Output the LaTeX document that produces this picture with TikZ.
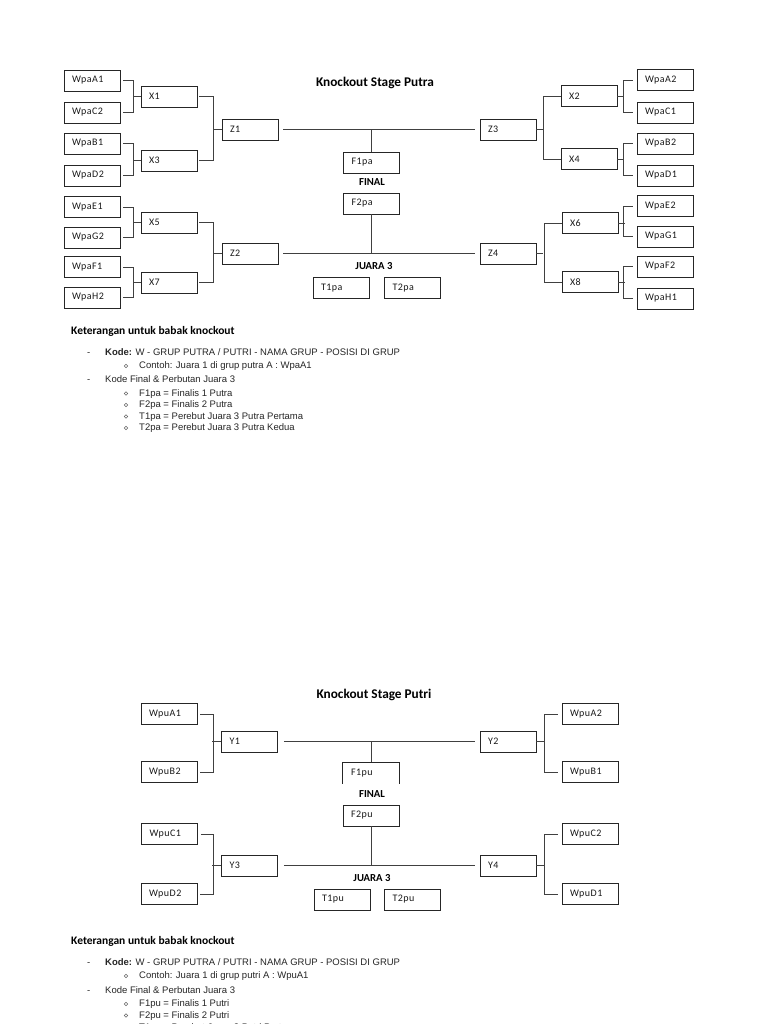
\documentclass[tikz,border=0pt]{standalone}
\usepackage{fontspec}
\setmainfont{Liberation Sans}
\newfontfamily\calfont{Carlito}
\newfontfamily\boxfont[LetterSpace=5]{Carlito}

\begin{document}
\begin{tikzpicture}[x=1pt,y=-1pt,
    teambox/.style={draw=black!85, line width=0.8pt, text width=40pt, align=left,
      inner xsep=8pt, inner ysep=0pt, minimum height=21pt, text=black!90,
      font=\boxfont\fontsize{10}{11}\selectfont},
    boxline/.style={draw=black!85, line width=0.8pt},
    wire/.style={draw=black!75, line width=0.9pt},
    caption/.style={inner sep=0pt, font=\calfont\bfseries\fontsize{10.7}{12}\selectfont},
    heading/.style={inner sep=0pt, font=\calfont\bfseries\fontsize{13.3}{15}\selectfont},
    notehead/.style={anchor=west, inner sep=0pt, font=\calfont\bfseries\fontsize{11.5}{13}\selectfont},
    note/.style={anchor=west, inner sep=0pt, text height=7pt, text depth=2pt, text=black!85,
      font=\fontsize{9.5}{11}\selectfont},
    dot/.style={circle, draw=black!60, line width=0.5pt, inner sep=0pt, minimum size=3.4pt}]

  \useasboundingbox (0,0) rectangle (768,1024);
  \fill[white] (0,0) rectangle (768,1024);

  % knockout putra
  \node[heading] (titlepa) at (375,83) {Knockout Stage Putra};

  \node[teambox] (WpaA1) at (92,80.5) {WpaA1};
  \node[teambox] (WpaC2) at (92,112.5) {WpaC2};
  \node[teambox] (WpaB1) at (92,143.5) {WpaB1};
  \node[teambox] (WpaD2) at (92,175.5) {WpaD2};
  \node[teambox] (WpaE1) at (92,207) {WpaE1};
  \node[teambox] (WpaG2) at (92,237.5) {WpaG2};
  \node[teambox] (WpaF1) at (92,267) {WpaF1};
  \node[teambox] (WpaH2) at (92,297.5) {WpaH2};

  \node[teambox] (X1) at (169,96.5) {X1};
  \node[teambox] (X3) at (169,160.5) {X3};
  \node[teambox] (X5) at (169,222.5) {X5};
  \node[teambox] (X7) at (169,282.5) {X7};

  \node[teambox] (Z1) at (250,129.5) {Z1};
  \node[teambox] (Z2) at (250,253.5) {Z2};
  \node[teambox] (Z3) at (508,129.5) {Z3};
  \node[teambox] (Z4) at (508,253.5) {Z4};

  \node[teambox] (X2) at (589,96) {X2};
  \node[teambox] (X4) at (589,159) {X4};
  \node[teambox] (X6) at (590,223) {X6};
  \node[teambox] (X8) at (590,282) {X8};

  \node[teambox] (WpaA2) at (665,80) {WpaA2};
  \node[teambox] (WpaC1) at (665,112.5) {WpaC1};
  \node[teambox] (WpaB2) at (665,143.5) {WpaB2};
  \node[teambox] (WpaD1) at (665,175.5) {WpaD1};
  \node[teambox] (WpaE2) at (665,206) {WpaE2};
  \node[teambox] (WpaG1) at (665,236.5) {WpaG1};
  \node[teambox] (WpaF2) at (665,266.5) {WpaF2};
  \node[teambox] (WpaH1) at (665,298.5) {WpaH1};

  \node[teambox] (F1pa) at (371.5,162.5) {F1pa};
  \node[caption] (finalpa) at (372,182) {FINAL};
  \node[teambox] (F2pa) at (371.5,203.5) {F2pa};
  \node[caption] (juarapa) at (374,266) {JUARA 3};
  \node[teambox] (T1pa) at (341,288) {T1pa};
  \node[teambox] (T2pa) at (412.5,288) {T2pa};

  \foreach \a/\b/\p in {WpaA1/WpaC2/X1, WpaB1/WpaD2/X3, WpaE1/WpaG2/X5, WpaF1/WpaH2/X7}{
    \draw[wire] ([xshift=3pt]\a.east) -- ++(10,0) |- ([xshift=3pt]\b.east);
    \draw[wire] (\p.west) -- ++(-8,0);
  }
  \foreach \a/\b/\p in {X1/X3/Z1, X5/X7/Z2}{
    \draw[wire] ([xshift=2pt]\a.east) -- ++(14,0) |- ([xshift=2pt]\b.east);
    \draw[wire] (\p.west) -- ++(-9,0);
  }
  \foreach \a/\b/\p in {WpaA2/WpaC1/X2, WpaB2/WpaD1/X4, WpaE2/WpaG1/X6, WpaF2/WpaH1/X8}{
    \draw[wire] ([xshift=-4pt]\a.west) -- ++(-9,0) |- ([xshift=-4pt]\b.west);
    \draw[wire] (\p.east) -- ++(7,0);
  }
  \foreach \a/\b/\p in {X2/X4/Z3, X6/X8/Z4}{
    \draw[wire] (\a.west) -- ++(-17,0) |- (\b.west);
    \draw[wire] (\p.east) -- ++(7,0);
  }
  \draw[wire] ([xshift=5pt]Z1.east) -- ([xshift=-5pt]Z3.west);
  \draw[wire] ([xshift=5pt]Z2.east) -- ([xshift=-5pt]Z4.west);
  \draw[wire] (F1pa.north) -- (F1pa.north |- Z1.east);
  \draw[wire] (F2pa.south) -- (F2pa.south |- Z2.east);

  % keterangan putra
  \node[notehead] (keypa) at (71,331) {Keterangan untuk babak knockout};
  \node[note] (dashpa1) at (87,353) {-};
  \node[note] (codepa) at (105,353) {\bfseries Kode:\mdseries{} W - GRUP PUTRA / PUTRI - NAMA GRUP - POSISI DI GRUP};
  \node[dot] at (126,366) {};
  \node[note] (examplepa) at (139,366) {Contoh: Juara 1 di grup putra A : WpaA1};
  \node[note] (dashpa2) at (87,380) {-};
  \node[note] (finalcodepa) at (105,380) {Kode Final \& Perbutan Juara 3};
  \foreach \y/\txt in {393.5/F1pa = Finalis 1 Putra, 405/F2pa = Finalis 2 Putra,
      416.5/T1pa = Perebut Juara 3 Putra Pertama, 428/T2pa = Perebut Juara 3 Putra Kedua}{
    \node[dot] at (126,\y) {};
    \node[note] at (139,\y) {\txt};
  }

  % knockout putri
  \node[heading] (titlepu) at (374,695) {Knockout Stage Putri};

  \node[teambox] (WpuA1) at (169,714) {WpuA1};
  \node[teambox] (WpuB2) at (169,772) {WpuB2};
  \node[teambox] (WpuC1) at (169.5,834) {WpuC1};
  \node[teambox] (WpuD2) at (169,894) {WpuD2};

  \node[teambox] (Y1) at (249.5,741.5) {Y1};
  \node[teambox] (Y3) at (249.5,865.5) {Y3};
  \node[teambox] (Y2) at (508,741.5) {Y2};
  \node[teambox] (Y4) at (508,865.5) {Y4};

  \node[teambox] (WpuA2) at (590,714) {WpuA2};
  \node[teambox] (WpuB1) at (590,772) {WpuB1};
  \node[teambox] (WpuC2) at (590,834) {WpuC2};
  \node[teambox] (WpuD1) at (590,894) {WpuD1};

  \node[teambox, draw=none] (F1pu) at (371,773) {F1pu};
  \draw[boxline] (F1pu.south west) |- (F1pu.north east) -- (F1pu.south east);
  \node[caption] (finalpu) at (372,794) {FINAL};
  \node[teambox] (F2pu) at (371,815.5) {F2pu};
  \node[caption] (juarapu) at (372,878) {JUARA 3};
  \node[teambox] (T1pu) at (342,899.5) {T1pu};
  \node[teambox] (T2pu) at (412.5,899.5) {T2pu};

  \foreach \a/\b/\p in {WpuA1/WpuB2/Y1, WpuC1/WpuD2/Y3}{
    \draw[wire] ([xshift=3pt]\a.east) -- ++(13,0) |- ([xshift=3pt]\b.east);
    \draw[wire] (\p.west) -- ++(-9,0);
  }
  \foreach \a/\b/\p in {WpuA2/WpuB1/Y2, WpuC2/WpuD1/Y4}{
    \draw[wire] ([xshift=-4pt]\a.west) -- ++(-13,0) |- ([xshift=-4pt]\b.west);
    \draw[wire] (\p.east) -- ++(9,0);
  }
  \draw[wire] ([xshift=6pt]Y1.east) -- ([xshift=-5pt]Y2.west);
  \draw[wire] ([xshift=6pt]Y3.east) -- ([xshift=-5pt]Y4.west);
  \draw[wire] (F1pu.north) -- (F1pu.north |- Y1.east);
  \draw[wire] (F2pu.south) -- (F2pu.south |- Y3.east);

  % keterangan putri
  \node[notehead] (keypu) at (71,941) {Keterangan untuk babak knockout};
  \node[note] (dashpu1) at (87,963) {-};
  \node[note] (codepu) at (105,963) {\bfseries Kode:\mdseries{} W - GRUP PUTRA / PUTRI - NAMA GRUP - POSISI DI GRUP};
  \node[dot] at (126,976) {};
  \node[note] (examplepu) at (139,976) {Contoh: Juara 1 di grup putri A : WpuA1};
  \node[note] (dashpu2) at (87,991) {-};
  \node[note] (finalcodepu) at (105,991) {Kode Final \& Perbutan Juara 3};
  \foreach \y/\txt in {1004/F1pu = Finalis 1 Putri, 1015.5/F2pu = Finalis 2 Putri,
      1028/T1pu = Perebut Juara 3 Putri Pertama}{
    \node[dot] at (126,\y) {};
    \node[note] at (139,\y) {\txt};
  }
\end{tikzpicture}
\end{document}
